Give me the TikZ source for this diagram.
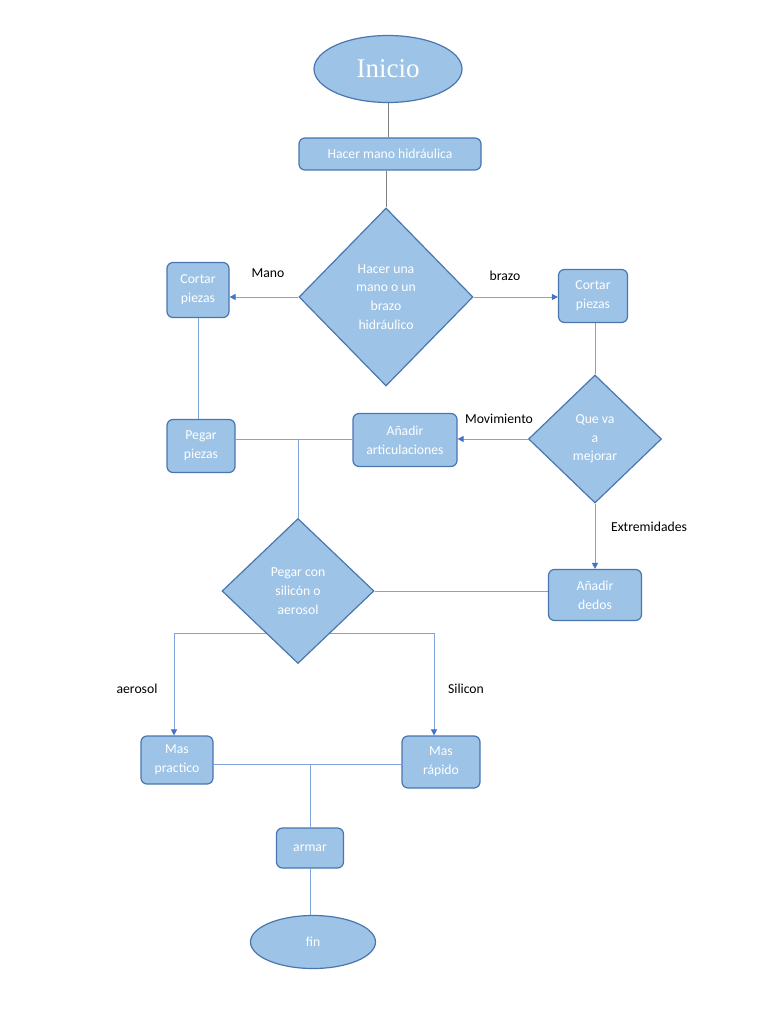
\documentclass[tikz,border=0pt]{standalone}
\usepackage{fontspec}
\setmainfont{Carlito}
\newfontfamily\inifont{Liberation Serif}
\usetikzlibrary{shapes.geometric,arrows.meta,backgrounds,calc}
\definecolor{fillb}{HTML}{9DC3E6}
\definecolor{edgeb}{HTML}{4A76B0}
\definecolor{lineb}{HTML}{7FA3DC}
\definecolor{arrowb}{HTML}{4472C4}
\definecolor{lineg}{HTML}{7F7F7F}
\begin{document}
\begin{tikzpicture}[x=1pt,y=-1pt,
  txt/.style={font=\fontsize{13.7}{18.7}\selectfont},
  box/.style={txt,draw=edgeb,fill=fillb,line width=1.2pt,rounded corners=6pt,text=white,align=center,inner sep=0pt},
  dia/.style={txt,diamond,draw=edgeb,fill=fillb,line width=1.2pt,text=white,align=center,inner sep=0pt},
  ell/.style={ellipse,draw=edgeb,fill=fillb,line width=1.2pt,text=white,align=center,inner sep=0pt},
  lab/.style={txt,text=black,inner sep=0pt},
  conn/.style={draw=lineb,line width=0.9pt},
  conng/.style={draw=lineg,line width=1pt},
  arr/.style={conn,-{Triangle[length=6pt,width=6pt,color=arrowb]}}]
\useasboundingbox (0,0) rectangle (768,1024);

\node[ell,minimum width=148pt,minimum height=67pt,font=\inifont\fontsize{27}{30}\selectfont] (ini) at (388,69) {Inicio};
\node[box,minimum width=182pt,minimum height=32pt] (hm) at (390,154) {Hacer mano hidráulica};
\node[dia,minimum width=174pt,minimum height=178pt] (d1) at (386,297) {Hacer una\\mano o un\\brazo\\hidráulico};
\node[box,minimum width=62pt,minimum height=55pt] (cl) at (198,290) {Cortar\\piezas};
\node[box,minimum width=69pt,minimum height=53pt] (cr) at (593,296) {Cortar\\piezas};
\node[dia,minimum width=133pt,minimum height=128pt] (d2) at (595,439) {Que va\\a\\mejorar};
\node[box,minimum width=104pt,minimum height=53pt] (aa) at (405,440) {Añadir\\articulaciones};
\node[box,minimum width=93pt,minimum height=51pt] (ad) at (595,595) {Añadir\\dedos};
\node[box,minimum width=68pt,minimum height=53pt] (pp) at (201,446) {Pegar\\piezas};
\node[dia,minimum width=152pt,minimum height=145pt] (d3) at (298,591) {Pegar con\\silicón o\\aerosol};
\node[box,minimum width=72pt,minimum height=48pt] (mp) at (177,760) {Mas\\practico};
\node[box,minimum width=78pt,minimum height=52pt] (mr) at (441,762) {Mas\\rápido};
\node[box,minimum width=67pt,minimum height=40pt] (ar) at (310,848) {armar};
\node[ell,minimum width=125pt,minimum height=53pt,txt] (fin) at (313,942) {fin};

\node[lab] (lmano) at (268,273) {Mano};
\node[lab] (lbrazo) at (505,276) {brazo};
\node[lab] (lmov) at (499,419) {Movimiento};
\node[lab] (lext) at (649,527) {Extremidades};
\node[lab] (laer) at (137,689) {aerosol};
\node[lab] (lsil) at (466,689) {Silicon};

\coordinate (j1) at (298,439);
\coordinate (bl) at (174,633);
\coordinate (br) at (434,633);
\coordinate (j2) at (310,764);

\begin{scope}[on background layer]
\fill[white] (0,0) rectangle (768,1024);
\draw[conng] (ini.south) -- (ini.south |- hm.north);
\draw[conng] (d1.north |- hm.south) -- (d1.north);
\draw[arr] (d1.west) -- (d1.west -| cl.east);
\draw[arr] (d1.east) -- (d1.east -| cr.west);
\draw[conn] (d2.north |- cr.south) -- (d2.north);
\draw[arr] (d2.west) -- (d2.west -| aa.east);
\draw[arr] (d2.south) -- (d2.south |- ad.north);
\draw[conn] (d3.east) -- (d3.east -| ad.west);
\draw[conn] (cl.south) -- (cl.south |- pp.north);
\draw[conn] (aa.west |- j1) -- (pp.east |- j1);
\draw[conn] (j1) -- (d3.north);
\draw[conn] (bl) -- (br);
\draw[arr] (bl) -- (bl |- mp.north);
\draw[arr] (br) -- (br |- mr.north);
\draw[conn] (mp.east |- j2) -- (mr.west |- j2);
\draw[conn] (j2) -- (j2 |- ar.north);
\draw[conn] (ar.south) -- (ar.south |- fin.north);
\end{scope}
\end{tikzpicture}
\end{document}
